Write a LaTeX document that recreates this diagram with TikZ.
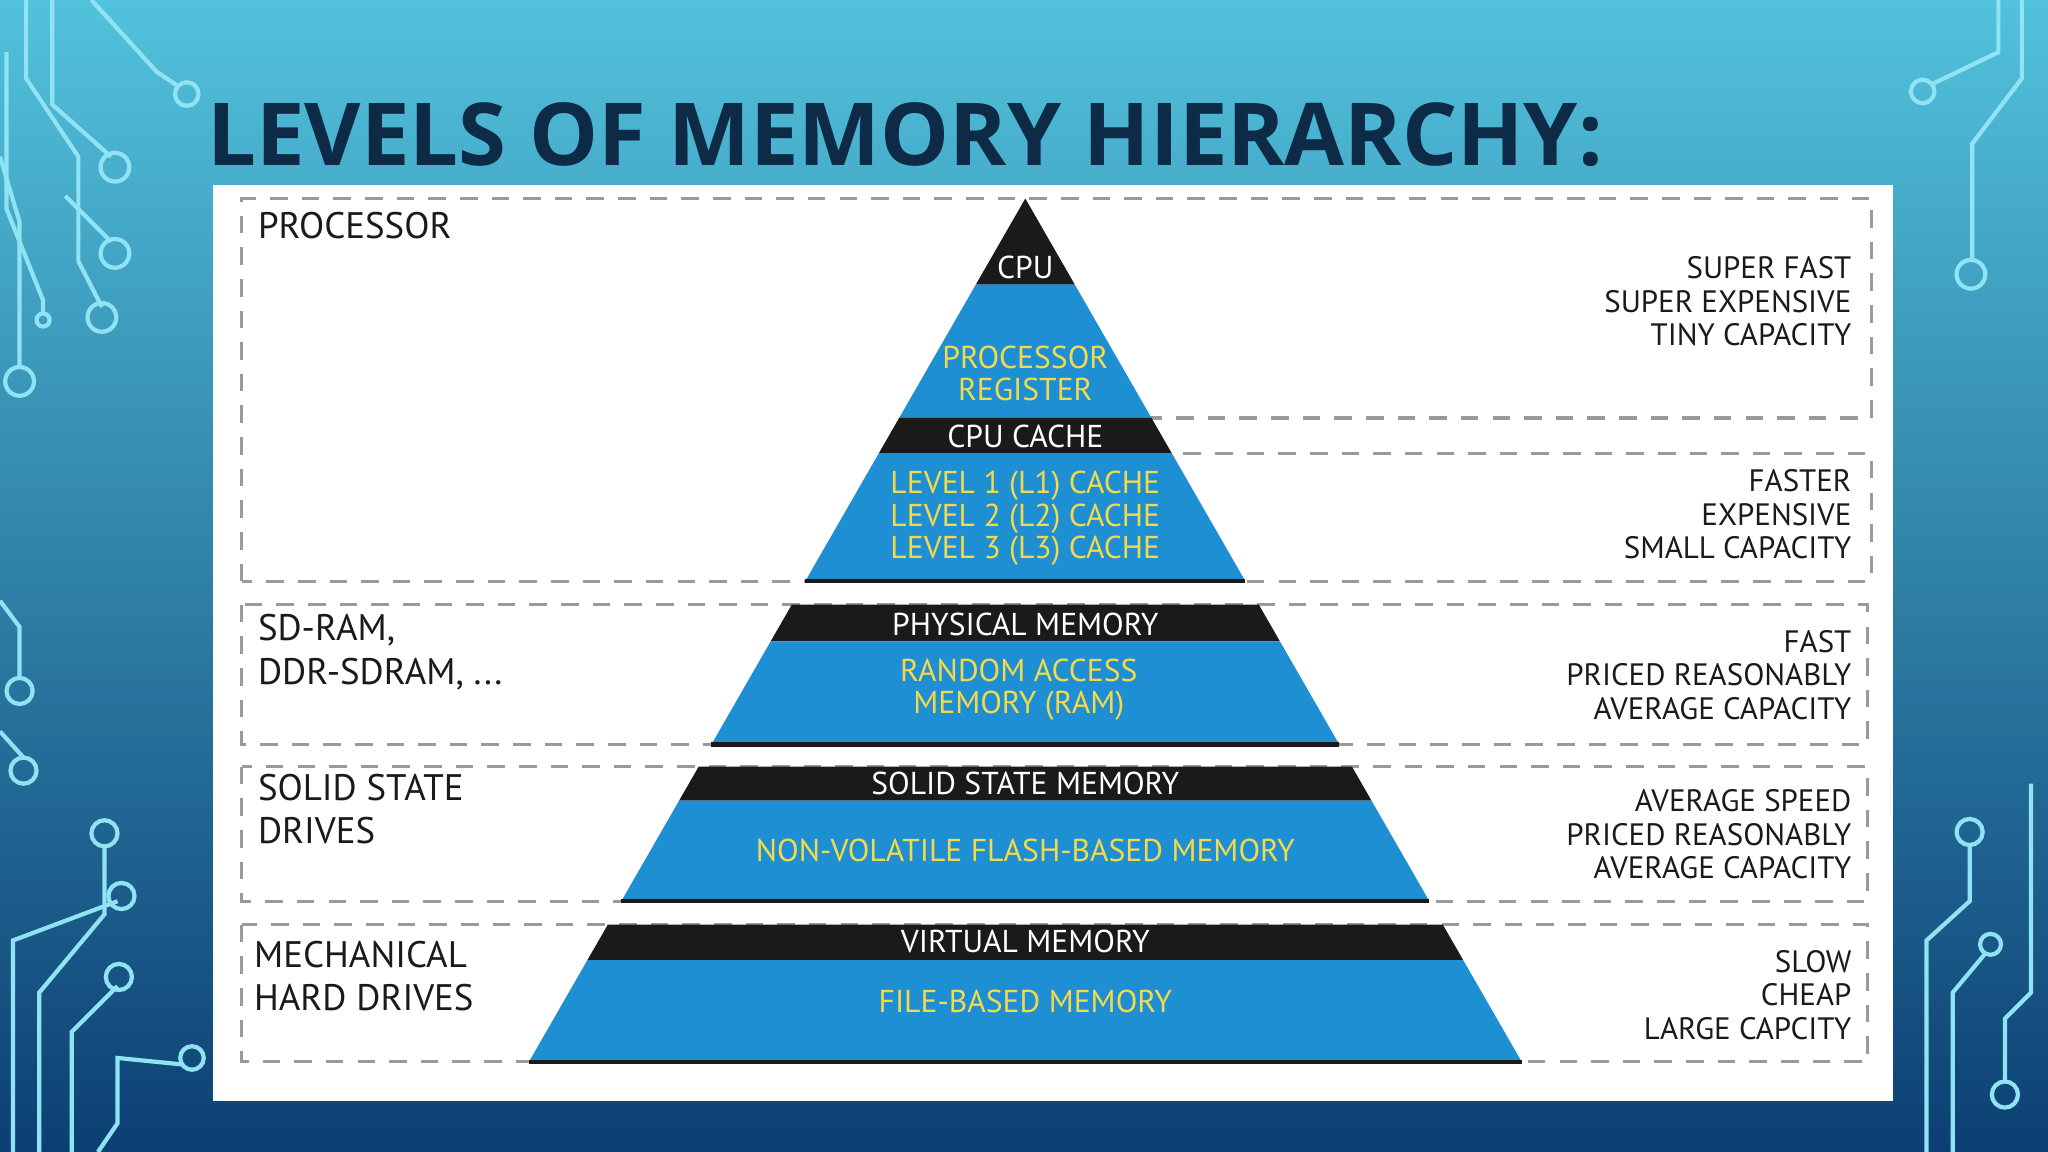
\documentclass[tikz,border=0pt]{standalone}
\usepackage{fontspec}
\setmainfont{Open Sans}
\newfontfamily\hand{PT Sans}
\definecolor{navy}{HTML}{0D2A47}
\definecolor{pblue}{HTML}{1E8FD2}
\definecolor{pblack}{HTML}{1A1A1A}
\definecolor{pyel}{HTML}{F2DA4C}
\definecolor{bgtop}{HTML}{52C2DC}
\definecolor{bgbot}{HTML}{0C3F73}
\definecolor{circ}{HTML}{8FE3F2}
\definecolor{dashc}{HTML}{9A9A9A}
\tikzset{
  lbl/.style={font=\hand\fontsize{9}{9.3}\selectfont, text=white, inner sep=0pt},
  ylbl/.style={font=\hand\fontsize{9}{9.3}\selectfont, text=pyel, align=center, inner sep=0pt},
  side/.style={font=\hand\fontsize{8.8}{9.5}\selectfont, text=pblack, inner sep=0pt},
  lside/.style={font=\hand\fontsize{10.5}{12.3}\selectfont, text=pblack, align=left, anchor=north west, inner sep=0pt},
  rside/.style={side, align=right, anchor=north east},
  dbox/.style={draw=dashc, dashed, line width=0.9pt, dash pattern=on 5pt off 4pt},
  wire/.style={draw=circ, line width=1.2pt},
  dot/.style={draw=circ, line width=1.2pt, fill=none}
}
\begin{document}
\begin{tikzpicture}[x=0.0130612cm, y=-0.0130612cm]
\useasboundingbox (0,0) rectangle (1568,882);
\shade[top color=bgtop, bottom color=bgbot] (0,0) rectangle (1568,882);
% circuit decorations
\draw[wire] (20,0) -- (20,60) -- (60,120) -- (60,200) -- (78,235);
\draw[dot] (78,243) circle (11);
\draw[wire] (40,0) -- (40,80) -- (85,120);
\draw[dot] (88,128) circle (11);
\draw[wire] (70,0) -- (120,55) -- (135,65);
\draw[dot] (143,72) circle (9);
\draw[wire] (5,40) -- (5,160) -- (33,230) -- (33,240);
\draw[dot] (33,245) circle (5);
\draw[wire] (0,120) -- (15,170) -- (15,280);
\draw[dot] (15,292) circle (11);
\draw[wire] (50,150) -- (85,185);
\draw[dot] (88,194) circle (11);
\draw[wire] (0,460) -- (15,480) -- (15,520);
\draw[dot] (15,529) circle (10);
\draw[wire] (0,560) -- (18,580);
\draw[dot] (18,590) circle (10);
\draw[wire] (30,882) -- (30,760) -- (80,700) -- (80,648);
\draw[dot] (80,638) circle (10);
\draw[wire] (55,882) -- (55,790) -- (90,755);
\draw[dot] (91,748) circle (10);
\draw[wire] (75,882) -- (90,860) -- (90,810) -- (140,815);
\draw[dot] (147,810) circle (9);
\draw[wire] (10,882) -- (10,720) -- (90,690);
\draw[dot] (93,686) circle (10);
\draw[wire] (1548,0) -- (1548,60) -- (1510,110) -- (1510,200);
\draw[dot] (1509,210) circle (11);
\draw[wire] (1530,0) -- (1530,40) -- (1478,65);
\draw[dot] (1472,70) circle (9);
\draw[wire] (1555,600) -- (1555,760) -- (1535,780) -- (1535,828);
\draw[dot] (1535,838) circle (10);
\draw[wire] (1508,648) -- (1508,690) -- (1475,720) -- (1475,882);
\draw[dot] (1508,637) circle (10);
\draw[wire] (1495,882) -- (1495,760) -- (1520,730);
\draw[dot] (1524,723) circle (8);
% title
\node[anchor=base west, font=\fontsize{24.7}{27}\selectfont\bfseries, text=navy, inner sep=0pt] (title) at (158,127) {LEVELS OF MEMORY HIERARCHY:};
% panel
\fill[white] (163,142) rectangle (1449,843);
% dashed boxes
\draw[dbox] (185,445) -- (185,152) -- (1433,152) -- (1433,320) -- (785,320);
\draw[dbox] (785,347) -- (1433,347) -- (1433,445) -- (185,445);
\draw[dbox] (185,463) rectangle (1430,570);
\draw[dbox] (185,587) rectangle (1430,690);
\draw[dbox] (185,708) rectangle (1430,813);
% pyramid layers
\def\lx#1{{785-0.575*(#1-152)}}
\def\rx#1{{785+0.575*(#1-152)}}
\newcommand\band[3]{\fill[#3] (\lx{#1},#1) -- (\rx{#1},#1) -- (\rx{#2},#2) -- (\lx{#2},#2) -- cycle;}
\fill[pblack] (785,152) -- (\rx{218},218) -- (\lx{218},218) -- cycle;
\band{218}{320}{pblue}
\band{320}{347}{pblack}
\band{347}{445}{pblue}
\band{463}{491}{pblack}
\band{491}{570}{pblue}
\band{587}{613}{pblack}
\band{613}{690}{pblue}
\band{708}{735}{pblack}
\band{735}{813}{pblue}
\draw[pblack, line width=1.2pt] (\lx{445},445) -- (\rx{445},445);
\draw[pblack, line width=1.2pt] (\lx{570},570) -- (\rx{570},570);
\draw[pblack, line width=1.2pt] (\lx{690},690) -- (\rx{690},690);
\draw[pblack, line width=1.2pt] (\lx{813},813) -- (\rx{813},813);
% pyramid labels
\node[lbl] (cpu) at (785,205) {CPU};
\node[ylbl] (reg) at (785,286) {PROCESSOR\\REGISTER};
\node[lbl] (cache) at (785,334) {CPU CACHE};
\node[ylbl] (lev) at (785,397) {LEVEL 1 (L1) CACHE\\LEVEL 2 (L2) CACHE\\LEVEL 3 (L3) CACHE};
\node[lbl] (phys) at (785,478) {PHYSICAL MEMORY};
\node[ylbl] (ram) at (780,528) {RANDOM ACCESS\\MEMORY (RAM)};
\node[lbl] (ssm) at (785,600) {SOLID STATE MEMORY};
\node[ylbl] (nvf) at (785,651) {NON-VOLATILE FLASH-BASED MEMORY};
\node[lbl] (vm) at (785,721) {VIRTUAL MEMORY};
\node[ylbl] (fbm) at (785,767) {FILE-BASED MEMORY};
% left labels
\node[lside] (l1) at (197,162) {PROCESSOR};
\node[lside] (l2) at (197,470) {SD-RAM,\\DDR-SDRAM, ...};
\node[lside] (l3) at (197,592) {SOLID STATE\\DRIVES};
\node[lside] (l4) at (194,720) {MECHANICAL\\HARD DRIVES};
% right labels
\node[rside] (r1) at (1418,196) {SUPER FAST\\SUPER EXPENSIVE\\TINY CAPACITY};
\node[rside] (r2) at (1418,359) {FASTER\\EXPENSIVE\\SMALL CAPACITY};
\node[rside] (r3) at (1418,482) {FAST\\PRICED REASONABLY\\AVERAGE CAPACITY};
\node[rside] (r4) at (1418,604) {AVERAGE SPEED\\PRICED REASONABLY\\AVERAGE CAPACITY};
\node[rside] (r5) at (1418,727) {SLOW\\CHEAP\\LARGE CAPCITY};
\end{tikzpicture}
\end{document}
